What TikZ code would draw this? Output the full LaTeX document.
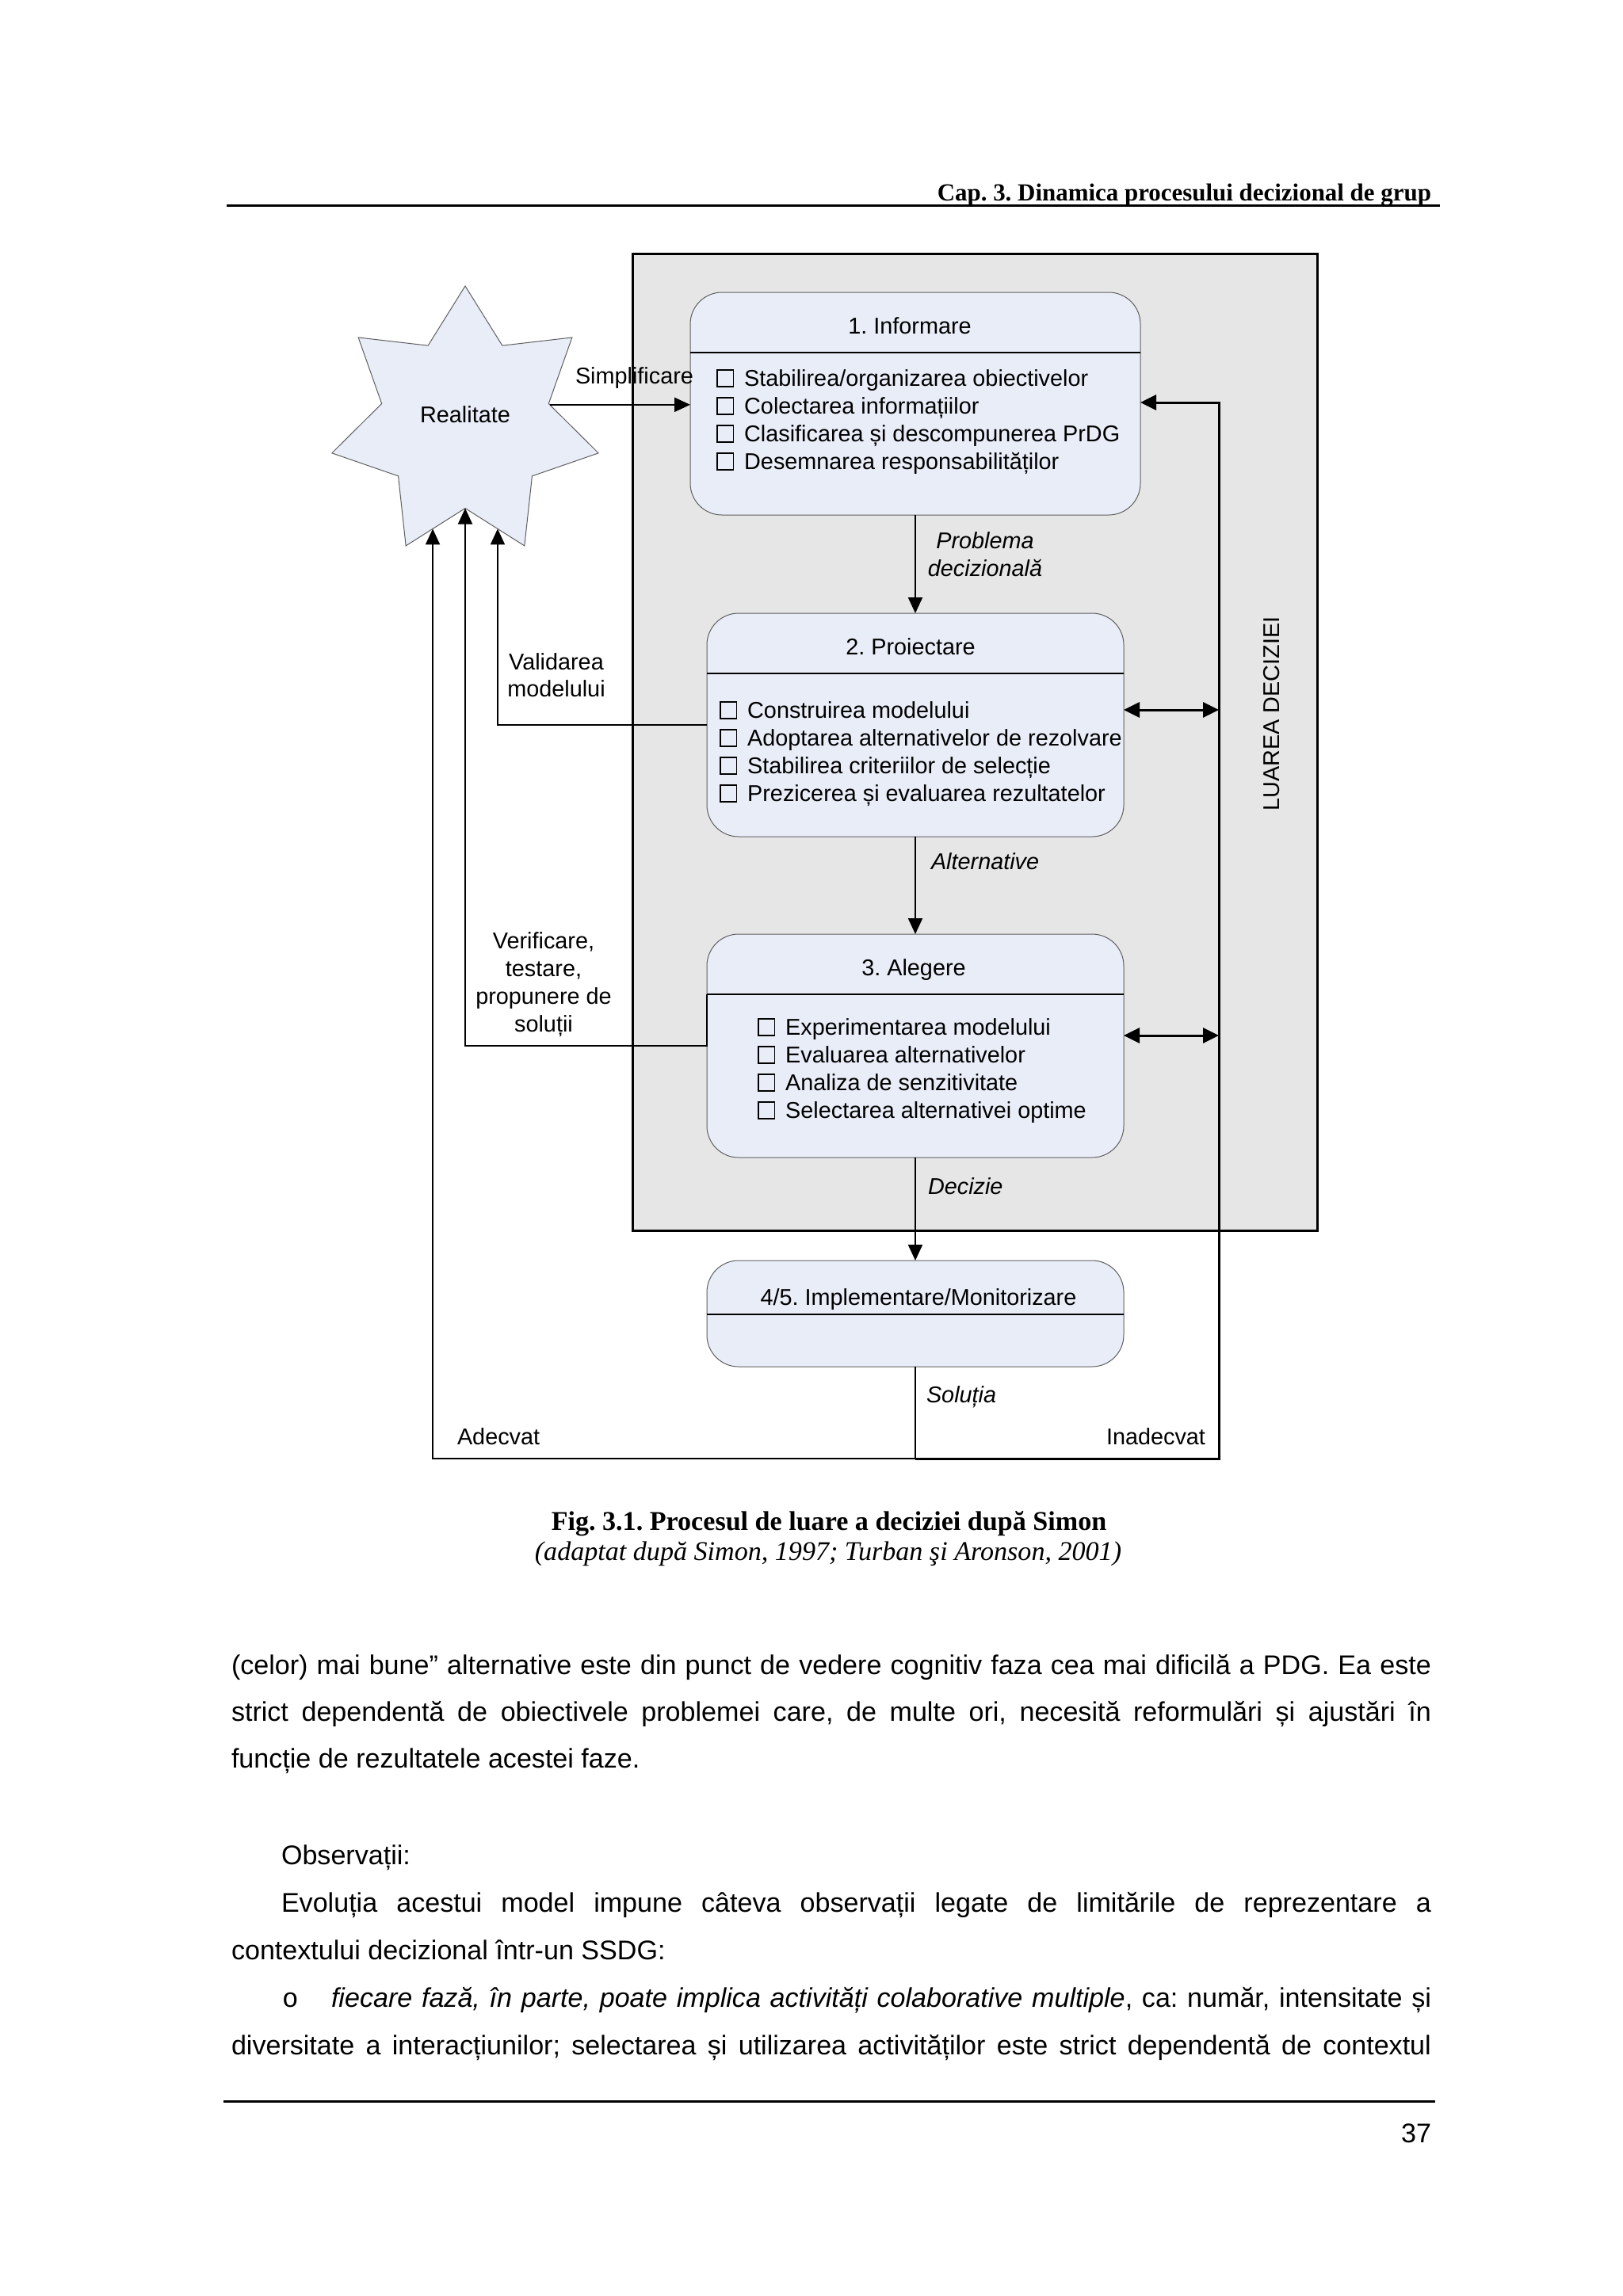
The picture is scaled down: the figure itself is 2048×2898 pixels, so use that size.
\documentclass[tikz,border=0pt]{standalone}
\usepackage{fontspec}
\setmainfont{Liberation Sans}
\newfontfamily\serifff{Liberation Serif}
\newfontfamily\monoff{Liberation Mono}
\usetikzlibrary{arrows.meta,shapes.geometric}
\definecolor{boxfill}{RGB}{233,237,248}
\definecolor{regionfill}{RGB}{230,230,230}
\definecolor{boxline}{RGB}{95,95,95}
\newcommand{\cbx}{{\setlength{\fboxsep}{0pt}\setlength{\fboxrule}{0.45pt}\fbox{\rule{0pt}{1.9mm}\hspace{1.9mm}}}\hspace{1.3mm}}
\begin{document}
\frenchspacing
\begin{tikzpicture}[x=0.1mm,y=-0.1mm,
  every node/.style={inner sep=0pt,outer sep=0pt},
  diag/.style={font=\fontsize{8.2}{9.96}\selectfont},
  item/.style={diag,anchor=base west},
  lbl/.style={diag,anchor=base},
  ilbl/.style={anchor=base west,font=\fontsize{8.2}{9.96}\selectfont\itshape},
  iclbl/.style={anchor=base,font=\fontsize{8.2}{9.96}\selectfont\itshape},
  phase/.style={rectangle,draw=boxline,line width=0.1mm,fill=boxfill,rounded corners=4mm},
  divider/.style={line width=0.2mm},
  conn/.style={line width=0.2mm},
  arr/.style={conn,-{Triangle[length=2mm,width=1.8mm]}},
  thickarr/.style={line width=0.3mm,-{Triangle[length=2mm,width=1.9mm]}},
  dblarr/.style={line width=0.3mm,{Triangle[length=2mm,width=1.9mm]}-{Triangle[length=2mm,width=1.9mm]}},
  body/.style={font=\fontsize{9.7}{11}\selectfont,anchor=base west},
  rulel/.style={line width=0.3mm}]
\useasboundingbox[fill=white] (0,0) rectangle (2048,2898);

% header
\node[anchor=base east,font=\serifff\bfseries\fontsize{8.8}{10}\selectfont] (hdr) at (1806,253) {Cap. 3. Dinamica procesului decizional de grup};
\draw[rulel] (286,259) -- (1817,259);

% decision region
\draw[fill=regionfill,line width=0.3mm] (798,320) rectangle (1662,1553);
\node[diag,rotate=90] (luarea) at (1605,901) {LUAREA DECIZIEI};

% coordinates
\coordinate (y1) at (0,445);
\coordinate (y2) at (0,850);
\coordinate (y3) at (0,1255);
\coordinate (y4) at (0,1659);
\coordinate (sol) at (1155,1841);
\coordinate (laneB) at (1538,1841);
\coordinate (laneT) at (1538,508);
\coordinate (d2) at (1538,896);
\coordinate (d3) at (1538,1307);

% star
\node[star,star points=7,star point ratio=1.597,minimum size=34.5mm,draw=boxline,fill=boxfill,line width=0.1mm] (real) at (587,533.5) {};
\node[lbl] (realtxt) at (587,533) {Realitate};

% phase boxes
\node[phase,minimum width=56.8mm,minimum height=28.1mm] (b1) at (1155,509.5) {};
\node[phase,minimum width=52.6mm,minimum height=28.2mm] (b2) at (1155,915) {};
\node[phase,minimum width=52.6mm,minimum height=28.2mm] (b3) at (1155,1320) {};
\node[phase,minimum width=52.6mm,minimum height=13.4mm] (b4) at (1155,1658) {};
\draw[divider] (b1.west |- y1) -- (b1.east |- y1);
\draw[divider] (b2.west |- y2) -- (b2.east |- y2);
\draw[divider] (b3.west |- y3) -- (b3.east |- y3);
\draw[divider] (b4.west |- y4) -- (b4.east |- y4);

\node[lbl] (t1) at (1148,421) {1. Informare};
\node[item] (i11) at (904,487) {\cbx Stabilirea/organizarea obiectivelor};
\node[item] (i12) at (904,522) {\cbx Colectarea informațiilor};
\node[item] (i13) at (904,557) {\cbx Clasificarea și descompunerea PrDG};
\node[item] (i14) at (904,592) {\cbx Desemnarea responsabilităților};

\node[lbl] (t2) at (1149,826) {2. Proiectare};
\node[item] (i21) at (908,906) {\cbx Construirea modelului};
\node[item] (i22) at (908,941) {\cbx Adoptarea alternativelor de rezolvare};
\node[item] (i23) at (908,976) {\cbx Stabilirea criteriilor de selecție};
\node[item] (i24) at (908,1011) {\cbx Prezicerea și evaluarea rezultatelor};

\node[lbl] (t3) at (1153,1231) {3. Alegere};
\node[item] (i31) at (956,1306) {\cbx Experimentarea modelului};
\node[item] (i32) at (956,1341) {\cbx Evaluarea alternativelor};
\node[item] (i33) at (956,1376) {\cbx Analiza de senzitivitate};
\node[item] (i34) at (956,1411) {\cbx Selectarea alternativei optime};

\node[lbl] (t4) at (1159,1647) {4/5. Implementare/Monitorizare};

% connectors
\draw[arr] (real.12.86) -- (real.12.86 -| b1.west);
\draw[arr] (b1.south) -- (b2.north);
\draw[arr] (b2.south) -- (b3.north);
\draw[arr] (b3.south) -- (b4.north);
\draw[conn] (b4.south) -- (sol);
\draw[arr] (sol) -| (real.253);
\draw[thickarr] (sol) -- (laneB) -- (laneT) -- (laneT -| b1.east);
\draw[dblarr] (d2 -| b2.east) -- (d2);
\draw[dblarr] (d3 -| b3.east) -- (d3);
\draw[arr] (b2.west) -| (real.287);
\draw[arr] (b3.west |- y3) -- (b3.west) -| (real.south);

% connector labels
\node[item] (simp) at (726,484) {Simplificare};
\node[lbl] (val1) at (702,845) {Validarea};
\node[lbl] (val2) at (702,879) {modelului};
\node[lbl] (ver1) at (686,1197) {Verificare,};
\node[lbl] (ver2) at (686,1232) {testare,};
\node[lbl] (ver3) at (686,1267) {propunere de};
\node[lbl] (ver4) at (686,1302) {soluții};
\node[iclbl] (pb1) at (1243,692) {Problema};
\node[iclbl] (pb2) at (1243,727) {decizională};
\node[ilbl] (alt) at (1175,1097) {Alternative};
\node[ilbl] (dec) at (1171,1507) {Decizie};
\node[ilbl] (solt) at (1169,1770) {Soluția};
\node[item] (adc) at (577,1823) {Adecvat};
\node[diag,anchor=base east] (inadc) at (1521,1823) {Inadecvat};

% caption
\node[anchor=base,font=\serifff\bfseries\fontsize{9.7}{11}\selectfont] (cap1) at (1046,1931) {Fig. 3.1. Procesul de luare a deciziei după Simon};
\node[anchor=base,font=\serifff\itshape\fontsize{9.7}{11}\selectfont] (cap2) at (1045,1969) {(adaptat după Simon, 1997; Turban şi Aronson, 2001)};

% body text
\node[body] (l1) at (292,2113) {\makebox[151.4mm][s]{(celor) mai bune” alternative este din punct de vedere cognitiv faza cea mai dificilă a PDG. Ea este}};
\node[body] (l2) at (292,2172) {\makebox[151.4mm][s]{strict dependentă de obiectivele problemei care, de multe ori, necesită reformulări și ajustări în}};
\node[body] (l3) at (292,2231) {funcție de rezultatele acestei faze.};
\node[body] (l4) at (355,2353) {Observații:};
\node[body] (l5) at (355,2413) {\makebox[145.1mm][s]{Evoluția acestui model impune câteva observații legate de limitările de reprezentare a}};
\node[body] (l6) at (292,2473) {contextului decizional într-un SSDG:};
\node[body] (bul) at (356,2533) {\monoff o};
\node[body] (l7) at (418,2533) {\makebox[138.8mm][s]{\itshape fiecare fază, în parte, poate implica activități colaborative multiple\upshape, ca: număr, intensitate și}};
\node[body] (l8) at (292,2593) {\makebox[151.4mm][s]{diversitate a interacțiunilor; selectarea și utilizarea activităților este strict dependentă de contextul}};

% footer
\draw[rulel] (282,2652) -- (1811,2652);
\node[anchor=base east,font=\fontsize{9.7}{11}\selectfont] (pg) at (1806,2704) {37};
\end{tikzpicture}
\end{document}
